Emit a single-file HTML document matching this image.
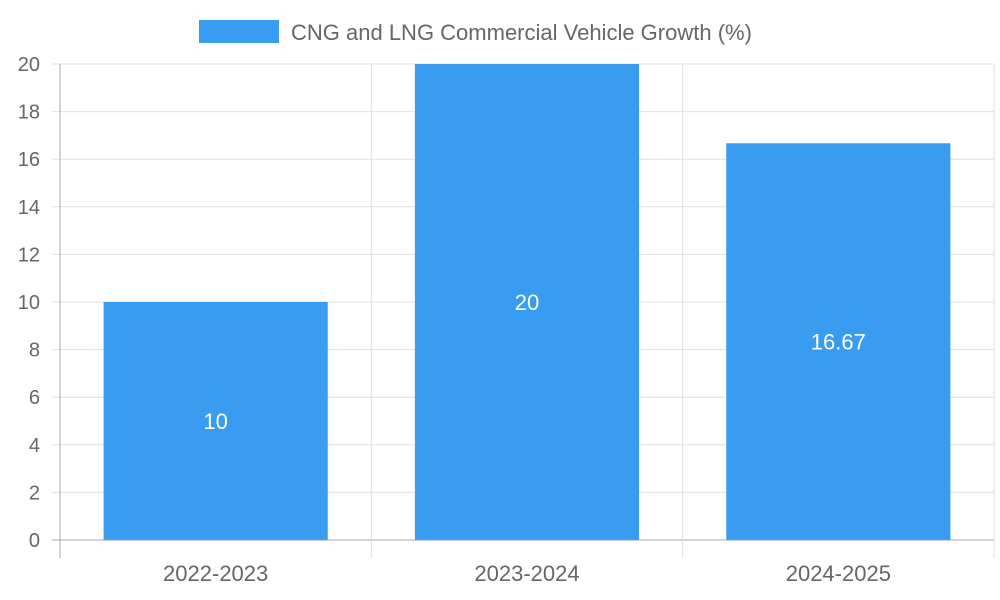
<!DOCTYPE html>
<html><head><meta charset="utf-8"><style>
html,body{margin:0;padding:0;background:#fff;}
svg{display:block;font-family:"Liberation Sans",sans-serif;}
</style></head><body>
<svg id="chart" width="1000" height="600">
<g id="grid"></g>
<g id="bars"></g>
<g id="axes"></g>
<g>
<rect x="199" y="20" width="80" height="23" fill="#389cf0"/>
<text x="291" y="40" font-size="22" fill="#666">CNG and LNG Commercial Vehicle Growth (%)</text>
</g>
</svg>
<script>
const categories = ["2022-2023","2023-2024","2024-2025"];
const values = [10, 20, 16.67];
const valueLabels = ["10","20","16.67"];
const yTicks = [0,2,4,6,8,10,12,14,16,18,20];

const NS="http://www.w3.org/2000/svg";
const L=60,R=994,T=64,B=540,yMax=20;
const y=v=>B-(v/yMax)*(B-T);
const band=(R-L)/categories.length;
const x=i=>L+band*i;
function mk(tag,attrs,parent,text){const e=document.createElementNS(NS,tag);for(const k in attrs)e.setAttribute(k,attrs[k]);if(text!==undefined)e.textContent=text;document.getElementById(parent).appendChild(e);return e;}

yTicks.forEach(t=>{
  const g=mk("line",{x1:L-8,x2:R,y1:y(t),y2:y(t),stroke:t===0?"#aaa":"#e0e0e0","stroke-width":1},"grid");
  
  
  const lb=mk("text",{x:L-20,y:y(t)+7,"text-anchor":"end","font-size":20,fill:"#666"},"axes",String(t));
  
  
});
for(let i=0;i<=categories.length;i++){
  const v=mk("line",{x1:x(i),x2:x(i),y1:T,y2:B+18,stroke:i===0?"#aaa":"#e0e0e0","stroke-width":1},"grid");
  
  
}
categories.forEach((c,i)=>{
  const w=band*0.72, bx=x(i)+(band-w)/2;
  const r=mk("rect",{x:bx,y:y(values[i]),width:w,height:B-y(values[i]),fill:"#389cf0"},"bars");
  
  
  const vl=mk("text",{x:bx+w/2,y:(y(values[i])+B)/2+8,"text-anchor":"middle","font-size":22,fill:"#fff"},"bars",valueLabels[i]);
  
  
  const xl=mk("text",{x:x(i)+band/2,y:581,"text-anchor":"middle","font-size":22,fill:"#666"},"axes",c);
  
  
});
</script>
</body></html>
